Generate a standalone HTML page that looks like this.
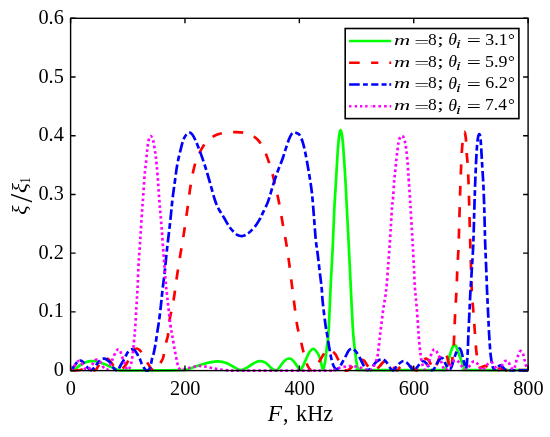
<!DOCTYPE html>
<html><head><meta charset="utf-8"><style>
html,body{margin:0;padding:0;background:#fff;width:550px;height:437px;overflow:hidden}
svg{display:block}
</style></head><body>
<svg width="550" height="437" viewBox="0 0 550 437">
<defs><clipPath id="c"><rect x="70.6" y="16.3" width="457.5" height="356.3"/></clipPath></defs>
<g clip-path="url(#c)" fill="none" stroke-width="2.70" stroke-linejoin="round">
<path d="M70.60 370.60 C70.85 370.58 71.18 370.87 72.10 370.50 C73.02 370.13 74.75 369.32 76.10 368.40 C77.45 367.48 78.67 365.98 80.20 365.00 C81.73 364.02 84.00 363.07 85.30 362.50 C86.60 361.93 87.15 361.82 88.00 361.60 C88.85 361.38 89.65 361.28 90.40 361.20 C91.15 361.12 91.82 361.10 92.50 361.10 C93.18 361.10 93.50 361.05 94.50 361.20 C95.50 361.35 96.98 361.57 98.50 362.00 C100.02 362.43 101.90 363.15 103.60 363.80 C105.30 364.45 107.00 365.15 108.70 365.90 C110.40 366.65 112.27 367.63 113.80 368.30 C115.33 368.97 116.53 369.55 117.90 369.90 C119.27 370.25 116.65 370.32 122.00 370.40 C127.35 370.48 139.50 370.50 150.00 370.40 C160.50 370.30 178.42 370.12 185.00 369.80 C191.58 369.48 188.05 368.93 189.50 368.50 C190.95 368.07 191.53 367.90 193.70 367.20 C195.87 366.50 199.58 365.15 202.50 364.30 C205.42 363.45 208.53 362.58 211.20 362.10 C213.87 361.62 216.08 361.28 218.50 361.40 C220.92 361.52 223.28 361.95 225.70 362.80 C228.12 363.65 231.12 365.50 233.00 366.50 C234.88 367.50 235.78 368.20 237.00 368.80 C238.22 369.40 239.30 369.98 240.30 370.10 C241.30 370.22 242.03 369.82 243.00 369.50 C243.97 369.18 244.37 369.20 246.10 368.20 C247.83 367.20 251.22 364.67 253.40 363.50 C255.58 362.33 257.20 361.35 259.20 361.20 C261.20 361.05 263.33 361.40 265.40 362.60 C267.47 363.80 269.83 367.07 271.60 368.40 C273.37 369.73 274.80 370.63 276.00 370.60 C277.20 370.57 277.83 369.30 278.80 368.20 C279.77 367.10 280.68 365.37 281.80 364.00 C282.92 362.63 284.28 360.92 285.50 360.00 C286.72 359.08 288.02 358.58 289.10 358.50 C290.18 358.42 291.03 358.78 292.00 359.50 C292.97 360.22 293.93 361.55 294.90 362.80 C295.87 364.05 296.95 365.75 297.80 367.00 C298.65 368.25 299.22 370.30 300.00 370.30 C300.78 370.30 301.65 368.48 302.50 367.00 C303.35 365.52 303.93 363.92 305.10 361.40 C306.27 358.88 308.05 353.97 309.50 351.90 C310.95 349.83 312.35 348.63 313.80 349.00 C315.25 349.37 317.08 352.27 318.20 354.10 C319.32 355.93 319.90 358.02 320.50 360.00 C321.10 361.98 321.42 364.42 321.80 366.00 C322.18 367.58 322.43 369.33 322.80 369.50 C323.17 369.67 323.60 368.35 324.00 367.00 C324.40 365.65 324.72 364.77 325.20 361.40 C325.68 358.03 326.33 351.87 326.90 346.80 C327.47 341.73 327.93 341.93 328.60 331.00 C329.27 320.07 330.23 294.70 330.90 281.20 C331.57 267.70 332.03 261.95 332.60 250.00 C333.17 238.05 333.82 219.67 334.30 209.50 C334.78 199.33 335.12 195.58 335.50 189.00 C335.88 182.42 336.27 175.67 336.60 170.00 C336.93 164.33 337.18 159.67 337.50 155.00 C337.82 150.33 338.17 145.58 338.50 142.00 C338.83 138.42 339.15 135.50 339.50 133.50 C339.85 131.50 340.23 130.00 340.60 130.00 C340.97 130.00 341.33 131.50 341.70 133.50 C342.07 135.50 342.45 138.42 342.80 142.00 C343.15 145.58 343.47 150.33 343.80 155.00 C344.13 159.67 344.45 164.33 344.80 170.00 C345.15 175.67 345.55 182.42 345.90 189.00 C346.25 195.58 346.47 201.00 346.90 209.50 C347.33 218.00 347.90 228.05 348.50 240.00 C349.10 251.95 349.78 266.53 350.50 281.20 C351.22 295.87 352.18 317.53 352.80 328.00 C353.42 338.47 353.77 339.65 354.20 344.00 C354.63 348.35 355.02 351.02 355.40 354.10 C355.78 357.18 356.08 360.10 356.50 362.50 C356.92 364.90 357.32 367.25 357.90 368.50 C358.48 369.75 352.98 369.75 360.00 370.00 C367.02 370.25 386.67 370.00 400.00 370.00 C413.33 370.00 432.50 370.08 440.00 370.00 C447.50 369.92 443.73 370.67 445.00 369.50 C446.27 368.33 446.85 365.17 447.60 363.00 C448.35 360.83 448.85 358.67 449.50 356.50 C450.15 354.33 450.88 351.75 451.50 350.00 C452.12 348.25 452.70 346.87 453.20 346.00 C453.70 345.13 454.03 344.80 454.50 344.80 C454.97 344.80 455.37 344.72 456.00 346.00 C456.63 347.28 457.55 350.42 458.30 352.50 C459.05 354.58 459.80 356.58 460.50 358.50 C461.20 360.42 461.75 362.25 462.50 364.00 C463.25 365.75 464.08 368.00 465.00 369.00 C465.92 370.00 457.48 369.83 468.00 370.00 C478.52 370.17 518.08 370.00 528.10 370.00" stroke="#00ff00"/>
<path d="M70.60 370.60 C71.33 370.58 73.43 370.60 75.00 370.50 C76.57 370.40 78.67 370.25 80.00 370.00 C81.33 369.75 82.08 369.43 83.00 369.00 C83.92 368.57 84.67 367.85 85.50 367.40 C86.33 366.95 87.17 366.37 88.00 366.30 C88.83 366.23 89.75 366.58 90.50 367.00 C91.25 367.42 91.87 368.23 92.50 368.80 C93.13 369.37 93.63 370.37 94.30 370.40 C94.97 370.43 95.75 369.90 96.50 369.00 C97.25 368.10 98.05 366.33 98.80 365.00 C99.55 363.67 100.13 362.12 101.00 361.00 C101.87 359.88 103.13 358.83 104.00 358.30 C104.87 357.77 105.42 357.60 106.20 357.80 C106.98 358.00 107.93 358.78 108.70 359.50 C109.47 360.22 110.00 361.05 110.80 362.10 C111.60 363.15 112.55 364.62 113.50 365.80 C114.45 366.98 115.47 368.42 116.50 369.20 C117.53 369.98 118.82 370.50 119.70 370.50 C120.58 370.50 121.10 369.77 121.80 369.20 C122.50 368.63 123.20 367.87 123.90 367.10 C124.60 366.33 125.18 365.87 126.00 364.60 C126.82 363.33 127.88 361.33 128.80 359.50 C129.72 357.67 130.63 355.18 131.50 353.60 C132.37 352.02 133.15 350.85 134.00 350.00 C134.85 349.15 135.68 348.50 136.60 348.50 C137.52 348.50 138.52 349.08 139.50 350.00 C140.48 350.92 141.52 352.45 142.50 354.00 C143.48 355.55 144.33 357.43 145.40 359.30 C146.47 361.17 147.80 363.50 148.90 365.20 C150.00 366.90 150.98 368.62 152.00 369.50 C153.02 370.38 154.17 370.50 155.00 370.50 C155.83 370.50 156.33 370.18 157.00 369.50 C157.67 368.82 158.33 367.65 159.00 366.40 C159.67 365.15 160.30 363.48 161.00 362.00 C161.70 360.52 162.53 359.92 163.20 357.50 C163.87 355.08 164.45 350.25 165.00 347.50 C165.55 344.75 166.00 343.08 166.50 341.00 C167.00 338.92 167.55 338.17 168.00 335.00 C168.45 331.83 168.27 327.83 169.20 322.00 C170.13 316.17 172.42 306.88 173.60 300.00 C174.78 293.12 175.23 287.92 176.30 280.70 C177.37 273.48 178.83 263.97 180.00 256.70 C181.17 249.43 182.03 245.28 183.30 237.10 C184.57 228.92 186.37 216.28 187.60 207.60 C188.83 198.92 189.55 191.93 190.70 185.00 C191.85 178.07 193.12 171.17 194.50 166.00 C195.88 160.83 197.42 157.50 199.00 154.00 C200.58 150.50 202.33 147.42 204.00 145.00 C205.67 142.58 207.17 141.08 209.00 139.50 C210.83 137.92 212.83 136.55 215.00 135.50 C217.17 134.45 219.67 133.73 222.00 133.20 C224.33 132.67 226.67 132.47 229.00 132.30 C231.33 132.13 233.65 132.15 236.00 132.20 C238.35 132.25 240.93 132.30 243.10 132.60 C245.27 132.90 247.18 133.33 249.00 134.00 C250.82 134.67 252.58 135.68 254.00 136.60 C255.42 137.52 256.42 138.40 257.50 139.50 C258.58 140.60 259.37 141.45 260.50 143.20 C261.63 144.95 263.20 147.68 264.30 150.00 C265.40 152.32 265.90 153.73 267.10 157.10 C268.30 160.47 270.23 165.83 271.50 170.20 C272.77 174.57 273.43 177.85 274.70 183.30 C275.97 188.75 277.63 195.38 279.10 202.90 C280.57 210.42 282.30 221.62 283.50 228.40 C284.70 235.18 285.40 238.15 286.30 243.60 C287.20 249.05 287.92 253.82 288.90 261.10 C289.88 268.38 290.83 276.65 292.20 287.30 C293.57 297.95 295.92 317.27 297.10 325.00 C298.28 332.73 298.45 330.07 299.30 333.70 C300.15 337.33 301.23 342.67 302.20 346.80 C303.17 350.93 304.13 355.22 305.10 358.50 C306.07 361.78 307.02 364.53 308.00 366.50 C308.98 368.47 310.00 369.80 311.00 370.30" stroke="#ff0000" stroke-dasharray="10 11.4" stroke-dashoffset="19.15"/>
<path d="M311.00 370.30 C312.00 370.80 313.00 370.38 314.00 369.50 C315.00 368.62 315.82 366.83 317.00 365.00 C318.18 363.17 319.68 360.80 321.10 358.50 C322.52 356.20 324.28 352.67 325.50 351.20 C326.72 349.73 327.32 349.73 328.40 349.70 C329.48 349.67 330.80 350.18 332.00 351.00 C333.20 351.82 334.33 352.70 335.60 354.60 C336.87 356.50 338.37 360.08 339.60 362.40 C340.83 364.72 341.93 367.13 343.00 368.50 C344.07 369.87 345.15 370.32 346.00 370.60 C346.85 370.88 347.20 370.75 348.10 370.20 C349.00 369.65 350.32 368.43 351.40 367.30 C352.48 366.17 353.42 364.62 354.60 363.40 C355.78 362.18 357.27 360.60 358.50 360.00 C359.73 359.40 361.02 359.63 362.00 359.80 C362.98 359.97 363.57 360.13 364.40 361.00 C365.23 361.87 366.08 363.73 367.00 365.00 C367.92 366.27 368.98 367.70 369.90 368.60 C370.82 369.50 371.48 370.25 372.50 370.40 C373.52 370.55 374.80 370.20 376.00 369.50 C377.20 368.80 378.53 367.38 379.70 366.20 C380.87 365.02 381.90 363.32 383.00 362.40 C384.10 361.48 385.22 360.70 386.30 360.70 C387.38 360.70 388.38 361.43 389.50 362.40 C390.62 363.37 391.73 365.15 393.00 366.50 C394.27 367.85 395.93 370.42 397.10 370.50 C398.27 370.58 399.02 367.97 400.00 367.00 C400.98 366.03 402.00 365.17 403.00 364.70 C404.00 364.23 405.00 364.10 406.00 364.20 C407.00 364.30 408.00 364.75 409.00 365.30 C410.00 365.85 411.00 366.75 412.00 367.50 C413.00 368.25 414.08 369.35 415.00 369.80 C415.92 370.25 416.67 370.75 417.50 370.20 C418.33 369.65 419.17 367.95 420.00 366.50 C420.83 365.05 421.47 362.80 422.50 361.50 C423.53 360.20 425.12 358.82 426.20 358.70 C427.28 358.58 428.12 359.67 429.00 360.80 C429.88 361.93 430.75 364.00 431.50 365.50 C432.25 367.00 432.83 369.47 433.50 369.80 C434.17 370.13 434.75 368.97 435.50 367.50 C436.25 366.03 437.08 363.17 438.00 361.00 C438.92 358.83 439.92 356.12 441.00 354.50 C442.08 352.88 443.58 351.22 444.50 351.30 C445.42 351.38 445.87 353.30 446.50 355.00 C447.13 356.70 447.72 359.58 448.30 361.50 C448.88 363.42 449.47 365.75 450.00 366.50 C450.53 367.25 451.08 367.42 451.50 366.00" stroke="#ff0000" stroke-dasharray="10 11.4" stroke-dashoffset="9.24"/>
<path d="M451.50 366.00 C451.92 364.58 452.17 361.00 452.50 358.00 C452.83 355.00 453.23 351.33 453.50 348.00 C453.77 344.67 453.92 341.67 454.10 338.00 C454.28 334.33 454.40 330.67 454.60 326.00 C454.80 321.33 455.00 315.67 455.30 310.00 C455.60 304.33 456.03 299.50 456.40 292.00 C456.77 284.50 457.17 272.00 457.50 265.00 C457.83 258.00 458.12 256.67 458.40 250.00 C458.68 243.33 458.93 233.83 459.20 225.00 C459.47 216.17 459.80 203.67 460.00 197.00 C460.20 190.33 460.27 188.67 460.40 185.00 C460.53 181.33 460.67 178.43 460.80 175.00 C460.93 171.57 461.05 168.00 461.20 164.40 C461.35 160.80 461.52 156.55 461.70 153.40 C461.88 150.25 462.10 147.90 462.30 145.50 C462.50 143.10 462.72 140.83 462.90 139.00 C463.08 137.17 463.22 135.67 463.40 134.50 C463.58 133.33 463.80 132.38 464.00 132.00 C464.20 131.62 464.38 131.78 464.60 132.20 C464.82 132.62 465.10 133.53 465.30 134.50 C465.50 135.47 465.65 136.67 465.80 138.00 C465.95 139.33 466.08 140.83 466.20 142.50 C466.32 144.17 466.42 146.18 466.50 148.00 C466.58 149.82 466.60 151.73 466.70 153.40 C466.80 155.07 466.95 156.32 467.10 158.00 C467.25 159.68 467.42 160.67 467.60 163.50 C467.78 166.33 468.00 170.58 468.20 175.00 C468.40 179.42 468.63 185.00 468.80 190.00 C468.97 195.00 469.00 197.50 469.20 205.00 C469.40 212.50 469.73 225.83 470.00 235.00 C470.27 244.17 470.50 250.50 470.80 260.00 C471.10 269.50 471.43 284.17 471.80 292.00 C472.17 299.83 472.63 302.33 473.00 307.00 C473.37 311.67 473.67 315.50 474.00 320.00 C474.33 324.50 474.67 329.37 475.00 334.00 C475.33 338.63 475.63 343.80 476.00 347.80 C476.37 351.80 476.75 355.22 477.20 358.00 C477.65 360.78 478.18 362.83 478.70 364.50 C479.22 366.17 479.65 367.62 480.30 368.00 C480.95 368.38 481.80 367.17 482.60 366.80 C483.40 366.43 484.28 365.77 485.10 365.80 C485.92 365.83 486.68 366.38 487.50 367.00 C488.32 367.62 489.08 368.95 490.00 369.50 C490.92 370.05 492.00 370.35 493.00 370.30 C494.00 370.25 494.83 369.50 496.00 369.20 C497.17 368.90 498.67 368.40 500.00 368.50 C501.33 368.60 502.67 369.50 504.00 369.80 C505.33 370.10 506.67 370.35 508.00 370.30 C509.33 370.25 510.67 369.67 512.00 369.50 C513.33 369.33 514.67 369.22 516.00 369.30 C517.33 369.38 517.98 369.88 520.00 370.00 C522.02 370.12 526.75 370.00 528.10 370.00" stroke="#ff0000" stroke-dasharray="10 11.4" stroke-dashoffset="0.73"/>
<path d="M70.60 370.60 C70.92 370.25 71.77 369.43 72.50 368.50 C73.23 367.57 74.17 366.08 75.00 365.00 C75.83 363.92 76.67 362.72 77.50 362.00 C78.33 361.28 79.17 360.78 80.00 360.70 C80.83 360.62 81.67 360.87 82.50 361.50 C83.33 362.13 84.08 363.42 85.00 364.50 C85.92 365.58 87.00 367.03 88.00 368.00 C89.00 368.97 90.00 370.30 91.00 370.30 C92.00 370.30 93.00 369.05 94.00 368.00 C95.00 366.95 95.82 365.42 97.00 364.00 C98.18 362.58 99.85 360.38 101.10 359.50 C102.35 358.62 103.38 358.55 104.50 358.70 C105.62 358.85 106.68 359.55 107.80 360.40 C108.92 361.25 110.13 362.40 111.20 363.80 C112.27 365.20 113.13 367.68 114.20 368.80 C115.27 369.92 116.55 371.05 117.60 370.50 C118.65 369.95 119.58 367.05 120.50 365.50 C121.42 363.95 122.25 362.75 123.10 361.20 C123.95 359.65 124.77 357.75 125.60 356.20 C126.43 354.65 127.12 353.03 128.10 351.90 C129.08 350.77 130.37 349.60 131.50 349.40 C132.63 349.20 133.90 349.85 134.90 350.70 C135.90 351.55 136.65 353.07 137.50 354.50 C138.35 355.93 139.18 357.52 140.00 359.30 C140.82 361.08 141.32 363.32 142.40 365.20 C143.48 367.08 145.22 370.20 146.50 370.60 C147.78 371.00 149.20 369.48 150.10 367.60 C151.00 365.72 151.30 361.68 151.90 359.30 C152.50 356.92 153.20 355.28 153.70 353.30 C154.20 351.32 154.50 349.58 154.90 347.40 C155.30 345.22 155.70 342.78 156.10 340.20 C156.50 337.62 156.82 335.07 157.30 331.90 C157.78 328.73 158.40 325.60 159.00 321.20 C159.60 316.80 160.32 310.70 160.90 305.50 C161.48 300.30 161.87 295.58 162.50 290.00 C163.13 284.42 163.97 278.63 164.70 272.00 C165.43 265.37 165.98 258.57 166.90 250.20 C167.82 241.83 169.28 230.17 170.20 221.80 C171.12 213.43 171.63 206.63 172.40 200.00 C173.17 193.37 174.00 187.83 174.80 182.00 C175.60 176.17 176.28 170.17 177.20 165.00 C178.12 159.83 179.28 155.17 180.30 151.00 C181.32 146.83 182.28 142.75 183.30 140.00 C184.32 137.25 185.38 135.73 186.40 134.50 C187.42 133.27 188.42 132.60 189.40 132.60 C190.38 132.60 191.32 133.27 192.30 134.50 C193.28 135.73 194.05 137.25 195.30 140.00 C196.55 142.75 198.23 146.83 199.80 151.00 C201.37 155.17 203.08 160.00 204.70 165.00 C206.32 170.00 207.80 175.17 209.50 181.00 C211.20 186.83 213.38 195.37 214.90 200.00 C216.42 204.63 217.32 206.25 218.60 208.80 C219.88 211.35 221.53 213.53 222.60 215.30 C223.67 217.07 224.12 217.87 225.00 219.40 C225.88 220.93 226.82 222.82 227.90 224.50 C228.98 226.18 230.17 227.93 231.50 229.50 C232.83 231.07 234.68 232.90 235.90 233.90 C237.12 234.90 237.83 235.12 238.80 235.50 C239.77 235.88 240.78 236.18 241.70 236.20 C242.62 236.22 243.45 235.92 244.30 235.60 C245.15 235.28 245.77 235.00 246.80 234.30 C247.83 233.60 249.05 232.80 250.50 231.40 C251.95 230.00 254.05 227.78 255.50 225.90 C256.95 224.02 258.22 221.73 259.20 220.10 C260.18 218.47 260.82 217.27 261.40 216.10 C261.98 214.93 261.57 215.60 262.70 213.10 C263.83 210.60 266.38 206.07 268.20 201.10 C270.02 196.13 271.93 188.48 273.60 183.30 C275.27 178.12 276.73 174.00 278.20 170.00 C279.67 166.00 281.13 162.85 282.40 159.30 C283.67 155.75 284.72 151.98 285.80 148.70 C286.88 145.42 287.95 142.02 288.90 139.60 C289.85 137.18 290.58 135.40 291.50 134.20 C292.42 133.00 293.47 132.55 294.40 132.40 C295.33 132.25 296.20 132.82 297.10 133.30 C298.00 133.78 298.87 133.82 299.80 135.30 C300.73 136.78 301.78 139.30 302.70 142.20 C303.62 145.10 304.33 148.03 305.30 152.70 C306.27 157.37 307.42 163.65 308.50 170.20 C309.58 176.75 310.88 184.12 311.80 192.00 C312.72 199.88 313.33 209.50 314.00 217.50 C314.67 225.50 315.17 233.75 315.80 240.00 C316.43 246.25 317.17 249.85 317.80 255.00 C318.43 260.15 318.97 265.52 319.60 270.90 C320.23 276.28 321.08 282.13 321.60 287.30 C322.12 292.47 322.05 295.62 322.70 301.90 C323.35 308.18 324.75 319.48 325.50 325.00 C326.25 330.52 326.60 331.37 327.20 335.00 C327.80 338.63 328.42 342.88 329.10 346.80 C329.78 350.72 330.57 355.35 331.30 358.50 C332.03 361.65 332.72 363.92 333.50 365.70 C334.28 367.48 335.20 368.75 336.00 369.20 C336.80 369.65 337.63 368.85 338.30 368.40 C338.97 367.95 339.28 367.60 340.00 366.50 C340.72 365.40 341.62 363.58 342.60 361.80 C343.58 360.02 344.92 357.63 345.90 355.80 C346.88 353.97 347.58 351.98 348.50 350.80 C349.42 349.62 350.52 348.88 351.40 348.70 C352.28 348.52 352.98 349.15 353.80 349.70 C354.62 350.25 355.25 350.53 356.30 352.00 C357.35 353.47 358.92 356.32 360.10 358.50 C361.28 360.68 362.32 363.22 363.40 365.10 C364.48 366.98 365.75 369.02 366.60 369.80 C367.45 370.58 367.77 370.03 368.50 369.80 C369.23 369.57 369.87 369.55 371.00 368.40 C372.13 367.25 374.03 364.27 375.30 362.90 C376.57 361.53 377.52 360.78 378.60 360.20 C379.68 359.62 380.73 359.33 381.80 359.40 C382.87 359.47 384.08 359.93 385.00 360.60 C385.92 361.27 386.30 362.00 387.30 363.40 C388.30 364.80 389.97 367.87 391.00 369.00 C392.03 370.13 392.48 370.70 393.50 370.20 C394.52 369.70 395.92 367.28 397.10 366.00 C398.28 364.72 399.42 363.33 400.60 362.50 C401.78 361.67 403.02 360.82 404.20 361.00 C405.38 361.18 406.62 362.57 407.70 363.60 C408.78 364.63 409.72 366.07 410.70 367.20 C411.68 368.33 412.52 370.40 413.60 370.40 C414.68 370.40 416.02 368.52 417.20 367.20 C418.38 365.88 419.70 363.53 420.70 362.50 C421.70 361.47 422.32 360.92 423.20 361.00 C424.08 361.08 425.12 362.08 426.00 363.00 C426.88 363.92 427.67 365.37 428.50 366.50 C429.33 367.63 430.15 369.30 431.00 369.80 C431.85 370.30 432.85 370.13 433.60 369.50 C434.35 368.87 434.82 367.18 435.50 366.00 C436.18 364.82 436.85 363.70 437.70 362.40 C438.55 361.10 439.80 358.88 440.60 358.20 C441.40 357.52 441.95 358.00 442.50 358.30 C443.05 358.60 443.40 359.05 443.90 360.00 C444.40 360.95 444.95 362.92 445.50 364.00 C446.05 365.08 446.53 365.58 447.20 366.50 C447.87 367.42 448.78 369.42 449.50 369.50 C450.22 369.58 450.72 368.88 451.50 367.00 C452.28 365.12 453.37 360.70 454.20 358.20 C455.03 355.70 455.65 353.62 456.50 352.00 C457.35 350.38 458.55 348.75 459.30 348.50 C460.05 348.25 460.47 349.25 461.00 350.50 C461.53 351.75 462.00 354.08 462.50 356.00 C463.00 357.92 463.45 359.92 464.00 362.00 C464.55 364.08 465.37 367.83 465.80 368.50 C466.23 369.17 466.35 367.75 466.60 366.00 C466.85 364.25 467.10 360.67 467.30 358.00 C467.50 355.33 467.62 354.00 467.80 350.00 C467.98 346.00 468.13 340.17 468.40 334.00 C468.67 327.83 469.07 320.00 469.40 313.00 C469.73 306.00 470.00 299.17 470.40 292.00 C470.80 284.83 471.37 277.00 471.80 270.00 C472.23 263.00 472.70 255.83 473.00 250.00 C473.30 244.17 473.38 241.67 473.60 235.00 C473.82 228.33 474.05 218.25 474.30 210.00 C474.55 201.75 474.82 193.23 475.10 185.50 C475.38 177.77 475.67 170.35 476.00 163.60 C476.33 156.85 476.73 149.52 477.10 145.00 C477.47 140.48 477.83 138.33 478.20 136.50 C478.57 134.67 478.97 134.00 479.30 134.00 C479.63 134.00 479.92 134.67 480.20 136.50 C480.48 138.33 480.68 140.48 481.00 145.00 C481.32 149.52 481.70 156.85 482.10 163.60 C482.50 170.35 483.03 177.85 483.40 185.50 C483.77 193.15 484.00 199.82 484.30 209.50 C484.60 219.18 484.88 233.85 485.20 243.60 C485.52 253.35 485.88 259.95 486.20 268.00 C486.52 276.05 486.77 284.07 487.10 291.90 C487.43 299.73 487.87 308.02 488.20 315.00 C488.53 321.98 488.82 328.63 489.10 333.80 C489.38 338.97 489.62 342.28 489.90 346.00 C490.18 349.72 490.35 352.68 490.80 356.10 C491.25 359.52 491.87 364.23 492.60 366.50 C493.33 368.77 494.38 369.53 495.20 369.70 C496.02 369.87 496.67 368.23 497.50 367.50 C498.33 366.77 499.23 365.25 500.20 365.30 C501.17 365.35 502.25 366.97 503.30 367.80 C504.35 368.63 504.55 369.88 506.50 370.30 C508.45 370.72 511.40 370.30 515.00 370.30 C518.60 370.30 525.92 370.30 528.10 370.30" stroke="#0000ff" stroke-dasharray="10.5 3.1 5.8 3.3" stroke-dashoffset="0.00"/>
<path d="M70.60 370.60 C70.92 370.25 71.75 369.43 72.50 368.50 C73.25 367.57 74.35 366.05 75.10 365.00 C75.85 363.95 76.42 362.87 77.00 362.20 C77.58 361.53 78.02 361.12 78.60 361.00 C79.18 360.88 79.88 361.00 80.50 361.50 C81.12 362.00 81.72 363.08 82.30 364.00 C82.88 364.92 83.42 366.07 84.00 367.00 C84.58 367.93 85.05 369.18 85.80 369.60 C86.55 370.02 87.72 369.90 88.50 369.50 C89.28 369.10 89.83 368.08 90.50 367.20 C91.17 366.32 91.83 365.23 92.50 364.20 C93.17 363.17 93.83 361.77 94.50 361.00 C95.17 360.23 95.62 359.57 96.50 359.60 C97.38 359.63 98.83 360.15 99.80 361.20 C100.77 362.25 101.38 364.55 102.30 365.90 C103.22 367.25 104.48 368.70 105.30 369.30 C106.12 369.90 106.57 369.87 107.20 369.50 C107.83 369.13 108.43 368.27 109.10 367.10 C109.77 365.93 110.50 364.12 111.20 362.50 C111.90 360.88 112.58 359.10 113.30 357.40 C114.02 355.70 114.85 353.53 115.50 352.30 C116.15 351.07 116.65 350.48 117.20 350.00 C117.75 349.52 118.30 349.23 118.80 349.40 C119.30 349.57 119.77 350.15 120.20 351.00 C120.63 351.85 120.92 353.08 121.40 354.50 C121.88 355.92 122.47 357.82 123.10 359.50 C123.73 361.18 124.57 362.93 125.20 364.60 C125.83 366.27 126.35 368.68 126.90 369.50 C127.45 370.32 128.02 369.83 128.50 369.50 C128.98 369.17 129.30 368.75 129.80 367.50 C130.30 366.25 131.03 364.08 131.50 362.00 C131.97 359.92 132.27 357.50 132.60 355.00 C132.93 352.50 133.22 349.83 133.50 347.00 C133.78 344.17 134.05 340.83 134.30 338.00 C134.55 335.17 134.65 335.12 135.00 330.00 C135.35 324.88 135.97 314.42 136.40 307.30 C136.83 300.18 137.25 294.27 137.60 287.30 C137.95 280.33 138.17 271.88 138.50 265.50 C138.83 259.12 139.23 254.47 139.60 249.00 C139.97 243.53 140.30 238.87 140.70 232.70 C141.10 226.53 141.63 217.45 142.00 212.00 C142.37 206.55 142.45 206.25 142.90 200.00 C143.35 193.75 144.15 181.00 144.70 174.50 C145.25 168.00 145.78 165.08 146.20 161.00 C146.62 156.92 146.85 153.17 147.20 150.00 C147.55 146.83 147.92 144.08 148.30 142.00 C148.68 139.92 149.12 138.50 149.50 137.50 C149.88 136.50 150.18 136.00 150.60 136.00 C151.02 136.00 151.52 136.50 152.00 137.50 C152.48 138.50 153.02 139.83 153.50 142.00 C153.98 144.17 154.48 147.77 154.90 150.50 C155.32 153.23 155.57 154.40 156.00 158.40 C156.43 162.40 156.95 167.57 157.50 174.50 C158.05 181.43 158.63 191.38 159.30 200.00 C159.97 208.62 160.78 217.12 161.50 226.20 C162.22 235.28 162.93 245.53 163.60 254.50 C164.27 263.47 164.97 273.58 165.50 280.00 C166.03 286.42 166.35 288.75 166.80 293.00 C167.25 297.25 167.60 300.17 168.20 305.50 C168.80 310.83 169.68 319.75 170.40 325.00 C171.12 330.25 171.78 332.88 172.50 337.00 C173.22 341.12 174.07 346.20 174.70 349.70 C175.33 353.20 175.83 355.62 176.30 358.00 C176.77 360.38 177.10 362.40 177.50 364.00 C177.90 365.60 178.20 366.63 178.70 367.60 C179.20 368.57 179.92 369.37 180.50 369.80 C181.08 370.23 181.45 370.25 182.20 370.20 C182.95 370.15 184.03 369.82 185.00 369.50 C185.97 369.18 186.55 368.77 188.00 368.30 C189.45 367.83 191.90 367.08 193.70 366.70 C195.50 366.32 197.10 366.05 198.80 366.00 C200.50 365.95 202.20 366.17 203.90 366.40 C205.60 366.63 207.18 367.03 209.00 367.40 C210.82 367.77 212.87 368.25 214.80 368.60 C216.73 368.95 218.40 369.22 220.60 369.50 C222.80 369.78 225.43 370.12 228.00 370.30 C230.57 370.48 227.33 370.55 236.00 370.60 C244.67 370.65 264.33 370.60 280.00 370.60 C295.67 370.60 320.92 370.70 330.00 370.60 C339.08 370.50 333.12 370.40 334.50 370.00 C335.88 369.60 336.77 368.72 338.30 368.20 C339.83 367.68 341.88 367.25 343.70 366.90 C345.52 366.55 347.47 366.22 349.20 366.10 C350.93 365.98 352.28 365.95 354.10 366.20 C355.92 366.45 358.28 367.00 360.10 367.60 C361.92 368.20 363.37 369.32 365.00 369.80 C366.63 370.28 368.65 370.72 369.90 370.50 C371.15 370.28 371.87 369.22 372.50 368.50 C373.13 367.78 373.13 367.40 373.70 366.20 C374.27 365.00 375.27 362.93 375.90 361.30 C376.53 359.67 377.05 358.62 377.50 356.40 C377.95 354.18 378.18 351.40 378.60 348.00 C379.02 344.60 379.52 340.17 380.00 336.00 C380.48 331.83 380.95 327.50 381.50 323.00 C382.05 318.50 382.70 313.17 383.30 309.00 C383.90 304.83 384.57 301.62 385.10 298.00 C385.63 294.38 385.98 292.80 386.50 287.30 C387.02 281.80 387.65 272.28 388.20 265.00 C388.75 257.72 389.33 250.43 389.80 243.60 C390.27 236.77 390.63 230.05 391.00 224.00 C391.37 217.95 391.65 211.80 392.00 207.30 C392.35 202.80 392.73 201.37 393.10 197.00 C393.47 192.63 393.83 185.60 394.20 181.10 C394.57 176.60 394.93 173.63 395.30 170.00 C395.67 166.37 396.03 162.63 396.40 159.30 C396.77 155.97 397.15 152.80 397.50 150.00 C397.85 147.20 398.07 144.63 398.50 142.50 C398.93 140.37 399.55 138.30 400.10 137.20 C400.65 136.10 401.23 135.90 401.80 135.90 C402.37 135.90 402.95 136.10 403.50 137.20 C404.05 138.30 404.63 140.37 405.10 142.50 C405.57 144.63 405.93 147.20 406.30 150.00 C406.67 152.80 407.00 155.97 407.30 159.30 C407.60 162.63 407.85 166.37 408.10 170.00 C408.35 173.63 408.47 176.10 408.80 181.10 C409.13 186.10 409.78 195.18 410.10 200.00 C410.42 204.82 410.45 205.83 410.70 210.00 C410.95 214.17 411.27 219.40 411.60 225.00 C411.93 230.60 412.33 236.93 412.70 243.60 C413.07 250.27 413.43 257.72 413.80 265.00 C414.17 272.28 414.45 280.63 414.90 287.30 C415.35 293.97 415.98 298.72 416.50 305.00 C417.02 311.28 417.62 319.67 418.00 325.00 C418.38 330.33 418.52 333.33 418.80 337.00 C419.08 340.67 419.42 344.17 419.70 347.00 C419.98 349.83 420.22 351.83 420.50 354.00 C420.78 356.17 421.00 358.00 421.40 360.00 C421.80 362.00 422.38 364.45 422.90 366.00 C423.42 367.55 423.95 368.80 424.50 369.30 C425.05 369.80 425.62 369.80 426.20 369.00 C426.78 368.20 427.38 366.17 428.00 364.50 C428.62 362.83 429.32 360.80 429.90 359.00 C430.48 357.20 430.75 355.33 431.50 353.70 C432.25 352.07 433.37 349.27 434.40 349.20 C435.43 349.13 436.80 351.80 437.70 353.30 C438.60 354.80 439.12 356.55 439.80 358.20 C440.48 359.85 441.18 361.55 441.80 363.20 C442.42 364.85 442.88 366.93 443.50 368.10 C444.12 369.27 444.82 370.08 445.50 370.20 C446.18 370.32 446.68 369.70 447.60 368.80 C448.52 367.90 450.03 366.10 451.00 364.80 C451.97 363.50 452.65 361.73 453.40 361.00 C454.15 360.27 454.82 360.43 455.50 360.40 C456.18 360.37 456.62 360.07 457.50 360.80 C458.38 361.53 459.83 363.47 460.80 364.80 C461.77 366.13 462.52 368.02 463.30 368.80 C464.08 369.58 464.75 369.58 465.50 369.50 C466.25 369.42 466.93 369.22 467.80 368.30 C468.67 367.38 469.92 365.05 470.70 364.00 C471.48 362.95 471.87 362.42 472.50 362.00 C473.13 361.58 473.83 361.37 474.50 361.50 C475.17 361.63 475.78 362.13 476.50 362.80 C477.22 363.47 478.13 364.55 478.80 365.50 C479.47 366.45 479.97 367.70 480.50 368.50 C481.03 369.30 481.23 370.42 482.00 370.30 C482.77 370.18 484.07 368.92 485.10 367.80 C486.13 366.68 487.30 364.47 488.20 363.60 C489.10 362.73 489.78 362.70 490.50 362.60 C491.22 362.50 491.62 362.13 492.50 363.00 C493.38 363.87 494.73 366.58 495.80 367.80 C496.87 369.02 497.85 370.72 498.90 370.30 C499.95 369.88 501.15 366.78 502.10 365.30 C503.05 363.82 503.92 362.15 504.60 361.40 C505.28 360.65 505.68 360.83 506.20 360.80 C506.72 360.77 507.02 360.45 507.70 361.20 C508.38 361.95 509.45 363.88 510.30 365.30 C511.15 366.72 512.05 369.42 512.80 369.70 C513.55 369.98 514.18 368.57 514.80 367.00 C515.42 365.43 515.90 362.30 516.50 360.30 C517.10 358.30 517.77 356.52 518.40 355.00 C519.03 353.48 519.73 351.77 520.30 351.20 C520.87 350.63 521.38 351.30 521.80 351.60 C522.22 351.90 522.42 351.98 522.80 353.00 C523.18 354.02 523.68 355.97 524.10 357.70 C524.52 359.43 524.78 361.58 525.30 363.40 C525.82 365.22 526.73 367.50 527.20 368.60 C527.67 369.70 527.95 369.77 528.10 370.00" stroke="#ff00ff" stroke-dasharray="2.6 2.85" stroke-dashoffset="0.00"/>
</g>
<g stroke="#000" stroke-width="1.40" fill="none">
<rect x="70.60" y="18.30" width="457.50" height="352.30"/>
<path d="M70.60 370.60 V365.60 M70.60 18.30 V23.30"/>
<path d="M184.97 370.60 V365.60 M184.97 18.30 V23.30"/>
<path d="M299.35 370.60 V365.60 M299.35 18.30 V23.30"/>
<path d="M413.73 370.60 V365.60 M413.73 18.30 V23.30"/>
<path d="M528.10 370.60 V365.60 M528.10 18.30 V23.30"/>
<path d="M70.60 370.60 H75.60 M528.10 370.60 H523.10"/>
<path d="M70.60 311.88 H75.60 M528.10 311.88 H523.10"/>
<path d="M70.60 253.17 H75.60 M528.10 253.17 H523.10"/>
<path d="M70.60 194.45 H75.60 M528.10 194.45 H523.10"/>
<path d="M70.60 135.73 H75.60 M528.10 135.73 H523.10"/>
<path d="M70.60 77.02 H75.60 M528.10 77.02 H523.10"/>
<path d="M70.60 18.30 H75.60 M528.10 18.30 H523.10"/>
</g>
<g font-family="'Liberation Serif', serif" fill="#000">
<text x="63.80" y="376.10" font-size="20.3" text-anchor="end">0</text>
<text x="63.80" y="317.38" font-size="20.3" text-anchor="end">0.1</text>
<text x="63.80" y="258.67" font-size="20.3" text-anchor="end">0.2</text>
<text x="63.80" y="199.95" font-size="20.3" text-anchor="end">0.3</text>
<text x="63.80" y="141.23" font-size="20.3" text-anchor="end">0.4</text>
<text x="63.80" y="82.52" font-size="20.3" text-anchor="end">0.5</text>
<text x="63.80" y="23.80" font-size="20.3" text-anchor="end">0.6</text>
<text x="70.90" y="395.10" font-size="20.3" text-anchor="middle">0</text>
<text x="185.28" y="395.10" font-size="20.3" text-anchor="middle">200</text>
<text x="299.65" y="395.10" font-size="20.3" text-anchor="middle">400</text>
<text x="414.03" y="395.10" font-size="20.3" text-anchor="middle">600</text>
<text x="528.40" y="395.10" font-size="20.3" text-anchor="middle">800</text>
<text x="267.76" y="420.60" font-size="22.3" font-style="italic" textLength="14.31" lengthAdjust="spacingAndGlyphs">F</text>
<text x="283.07" y="420.60" font-size="22.3" textLength="5.42" lengthAdjust="spacingAndGlyphs">,</text>
<text x="296.00" y="420.60" font-size="22.3" textLength="37.16" lengthAdjust="spacingAndGlyphs">kHz</text>
<g transform="rotate(-90)">
<text x="-214.77" y="27.40" font-size="21" font-style="italic" textLength="9.27" lengthAdjust="spacingAndGlyphs">ξ</text>
<text x="-202.60" y="31.50" font-size="32" textLength="8.74" lengthAdjust="spacingAndGlyphs">/</text>
<text x="-193.13" y="27.40" font-size="21" font-style="italic" textLength="9.93" lengthAdjust="spacingAndGlyphs">ξ</text>
<text x="-183.15" y="30.20" font-size="15" textLength="5.73" lengthAdjust="spacingAndGlyphs">1</text>
</g>
<rect x="345.20" y="28.50" width="173.70" height="90.10" fill="#fff" stroke="#000" stroke-width="1.6"/>
<path d="M349.1 41.00 H391.2" stroke="#00ff00" stroke-width="2.70"/>
<text x="394.13" y="44.95" font-size="14.6" font-style="italic" textLength="16.21" lengthAdjust="spacingAndGlyphs">m</text>
<text x="414.33" y="46.65" font-size="14.5" textLength="14.92" lengthAdjust="spacingAndGlyphs">=</text>
<text x="428.07" y="44.95" font-size="16.5" textLength="8.76" lengthAdjust="spacingAndGlyphs">8</text>
<text x="437.25" y="44.95" font-size="16.5" textLength="6.43" lengthAdjust="spacingAndGlyphs">;</text>
<text x="448.19" y="45.35" font-size="16.5" font-style="italic" textLength="8.80" lengthAdjust="spacingAndGlyphs">θ</text>
<text x="455.76" y="48.35" font-size="11.5" font-style="italic" textLength="5.29" lengthAdjust="spacingAndGlyphs">i</text>
<text x="466.66" y="46.35" font-size="16.5" textLength="14.18" lengthAdjust="spacingAndGlyphs">=</text>
<text x="485.39" y="44.95" font-size="16.5" textLength="22.36" lengthAdjust="spacingAndGlyphs">3.1</text>
<text x="508.02" y="44.95" font-size="16.5" textLength="6.87" lengthAdjust="spacingAndGlyphs">°</text>
<path d="M349.1 62.75 H391.2" stroke="#ff0000" stroke-width="2.70" stroke-dasharray="10.6 11.4 7.2 11 2"/>
<text x="394.13" y="66.67" font-size="14.6" font-style="italic" textLength="16.21" lengthAdjust="spacingAndGlyphs">m</text>
<text x="414.33" y="68.37" font-size="14.5" textLength="14.92" lengthAdjust="spacingAndGlyphs">=</text>
<text x="428.07" y="66.67" font-size="16.5" textLength="8.76" lengthAdjust="spacingAndGlyphs">8</text>
<text x="437.25" y="66.67" font-size="16.5" textLength="6.43" lengthAdjust="spacingAndGlyphs">;</text>
<text x="448.19" y="67.07" font-size="16.5" font-style="italic" textLength="8.80" lengthAdjust="spacingAndGlyphs">θ</text>
<text x="455.76" y="70.07" font-size="11.5" font-style="italic" textLength="5.29" lengthAdjust="spacingAndGlyphs">i</text>
<text x="466.66" y="68.07" font-size="16.5" textLength="14.18" lengthAdjust="spacingAndGlyphs">=</text>
<text x="485.12" y="66.67" font-size="16.5" textLength="22.36" lengthAdjust="spacingAndGlyphs">5.9</text>
<text x="508.02" y="66.67" font-size="16.5" textLength="6.87" lengthAdjust="spacingAndGlyphs">°</text>
<path d="M349.1 84.50 H391.2" stroke="#0000ff" stroke-width="2.70" stroke-dasharray="10.6 3.3 4.8 3.4 7.2 3.1 5.1 2.7 2"/>
<text x="394.13" y="88.39" font-size="14.6" font-style="italic" textLength="16.21" lengthAdjust="spacingAndGlyphs">m</text>
<text x="414.33" y="90.09" font-size="14.5" textLength="14.92" lengthAdjust="spacingAndGlyphs">=</text>
<text x="428.07" y="88.39" font-size="16.5" textLength="8.76" lengthAdjust="spacingAndGlyphs">8</text>
<text x="437.25" y="88.39" font-size="16.5" textLength="6.43" lengthAdjust="spacingAndGlyphs">;</text>
<text x="448.19" y="88.79" font-size="16.5" font-style="italic" textLength="8.80" lengthAdjust="spacingAndGlyphs">θ</text>
<text x="455.76" y="91.79" font-size="11.5" font-style="italic" textLength="5.29" lengthAdjust="spacingAndGlyphs">i</text>
<text x="466.66" y="89.79" font-size="16.5" textLength="14.18" lengthAdjust="spacingAndGlyphs">=</text>
<text x="485.39" y="88.39" font-size="16.5" textLength="22.36" lengthAdjust="spacingAndGlyphs">6.2</text>
<text x="508.02" y="88.39" font-size="16.5" textLength="6.87" lengthAdjust="spacingAndGlyphs">°</text>
<path d="M349.1 106.25 H391.2" stroke="#ff00ff" stroke-width="2.70" stroke-dasharray="2.3 3.3 2.3 3 2.3 2.9 2.3 3.3 0.6 1.3 2.6 3.1 2.6 3.1 2.6 3 1.8"/>
<text x="394.13" y="110.11" font-size="14.6" font-style="italic" textLength="16.21" lengthAdjust="spacingAndGlyphs">m</text>
<text x="414.33" y="111.81" font-size="14.5" textLength="14.92" lengthAdjust="spacingAndGlyphs">=</text>
<text x="428.07" y="110.11" font-size="16.5" textLength="8.76" lengthAdjust="spacingAndGlyphs">8</text>
<text x="437.25" y="110.11" font-size="16.5" textLength="6.43" lengthAdjust="spacingAndGlyphs">;</text>
<text x="448.19" y="110.51" font-size="16.5" font-style="italic" textLength="8.80" lengthAdjust="spacingAndGlyphs">θ</text>
<text x="455.76" y="113.51" font-size="11.5" font-style="italic" textLength="5.29" lengthAdjust="spacingAndGlyphs">i</text>
<text x="466.66" y="111.51" font-size="16.5" textLength="14.18" lengthAdjust="spacingAndGlyphs">=</text>
<text x="485.14" y="110.11" font-size="16.5" textLength="21.79" lengthAdjust="spacingAndGlyphs">7.4</text>
<text x="508.02" y="110.11" font-size="16.5" textLength="6.87" lengthAdjust="spacingAndGlyphs">°</text>
</g>
</svg>
</body></html>
